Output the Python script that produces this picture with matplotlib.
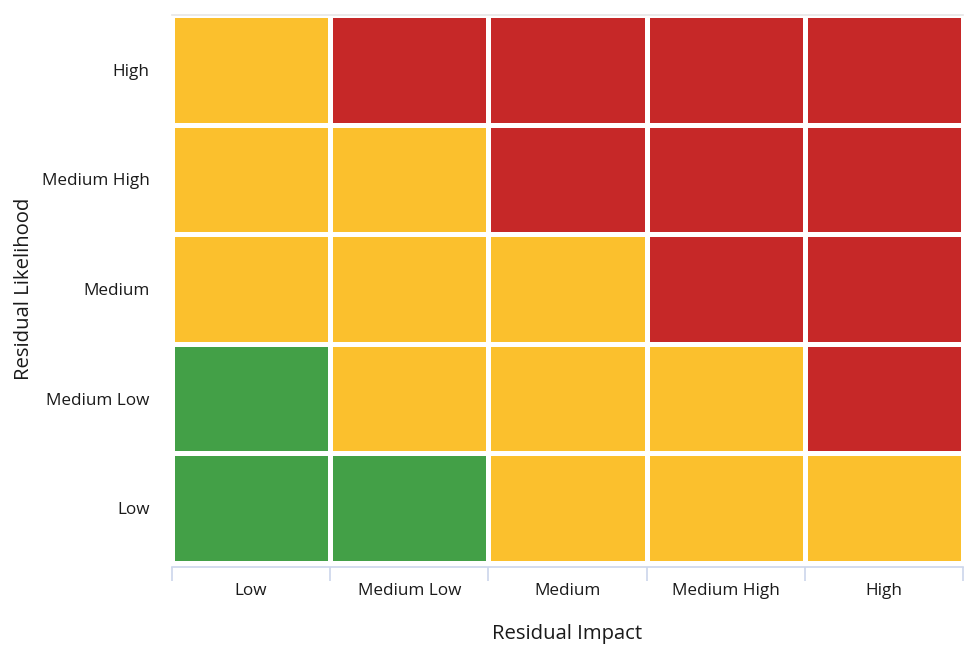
import numpy as np
import matplotlib.pyplot as plt
from matplotlib.colors import ListedColormap

plt.rcParams['font.family'] = ['Open Sans', 'DejaVu Sans']

impact = ['Low', 'Medium Low', 'Medium', 'Medium High', 'High']
likelihood = ['Low', 'Medium Low', 'Medium', 'Medium High', 'High']

# risk level per cell: 0 = low (green), 1 = medium (amber), 2 = high (red)
# rows = likelihood from Low to High, cols = impact from Low to High
risk_low = [0, 0, 1, 1, 1]
risk_medium_low = [0, 1, 1, 1, 2]
risk_medium = [1, 1, 1, 2, 2]
risk_medium_high = [1, 1, 2, 2, 2]
risk_high = [1, 2, 2, 2, 2]

grid = np.array([risk_low, risk_medium_low, risk_medium, risk_medium_high, risk_high])
cmap = ListedColormap(['#43a047', '#fbc02d', '#c62828'])

fig = plt.figure(figsize=(9.76, 6.51), dpi=100)
ax = fig.add_axes([172/976, 88/651, 791/976, 548/651])

ax.pcolormesh(np.arange(6), np.arange(6), grid, cmap=cmap, vmin=0, vmax=2,
              edgecolors='white', linewidth=2.4)
ax.set_xlim(0, 5)
ax.set_ylim(0, 5)

for s in ['left', 'right']:
    ax.spines[s].set_visible(False)
ax.spines['top'].set_color('#e6e6e6')
ax.spines['top'].set_linewidth(1.2)
ax.spines['bottom'].set_color('#ccd6eb')
ax.spines['bottom'].set_linewidth(1.2)
ax.spines['bottom'].set_position(('outward', 3))

ax.set_xticks(np.arange(6))
ax.set_xticklabels([])
ax.tick_params(axis='x', which='major', length=10, width=1.2, color='#ccd6eb')
ax.set_xticks(np.arange(5) + 0.5, minor=True)
ax.set_xticklabels(impact, minor=True, fontsize=12.3, color='#1a1a1a')
ax.tick_params(axis='x', which='minor', length=0, pad=11.5)

ax.set_yticks(np.arange(5) + 0.5)
ax.set_yticklabels(likelihood, fontsize=12.3, color='#1a1a1a')
ax.tick_params(axis='y', length=0, pad=16)

ax.set_xlabel('Residual Impact', fontsize=14.6, color='#1a1a1a', labelpad=18)
ax.set_ylabel('Residual Likelihood', fontsize=14.6, color='#1a1a1a', labelpad=6)

fig.savefig('out.png', dpi=100)
